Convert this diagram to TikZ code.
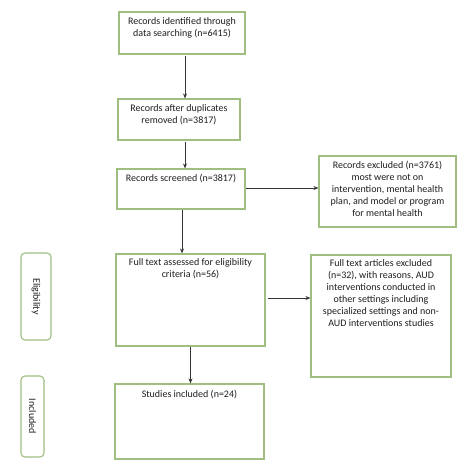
\documentclass[tikz,border=0pt]{standalone}
\usepackage{fontspec}
\setmainfont{Carlito}
\usetikzlibrary{positioning,arrows.meta}
\definecolor{boxgreen}{RGB}{160,190,128}
\definecolor{inkgray}{RGB}{30,30,30}
\tikzset{
  flowbox/.style={draw=boxgreen, line width=1.1pt, inner sep=0pt},
  flowtext/.style={align=center, inner sep=0pt, font=\fontsize{10}{12}\selectfont, text=inkgray},
  stagebox/.style={draw=boxgreen, line width=1.1pt, rounded corners=4pt, inner sep=0pt,
    rotate=-90, font=\fontsize{10}{12}\selectfont, text=inkgray},
  flowarrow/.style={draw=inkgray!90, line width=0.9pt, -{Stealth[length=5pt,width=4pt]}}
}
\begin{document}
\begin{tikzpicture}[x=1pt, y=-1pt]
    \useasboundingbox (0,0) rectangle (474,474);

    % Main column
    \node[flowbox, minimum width=126pt, minimum height=42pt] (ident) at (182,33) {};
    \node[flowtext, below=6pt of ident.north] (identtext) {Records identified through\\data searching (n=6415)};

    \node[flowbox, minimum width=122pt, minimum height=41pt] (dupl) at (179,119.5) {};
    \node[flowtext, below=6pt of dupl.north] (dupltext) {Records after duplicates\\removed (n=3817)};

    \node[flowbox, minimum width=128pt, minimum height=40pt] (screen) at (181,189) {};
    \node[flowtext, below=6pt of screen.north] (screentext) {Records screened (n=3817)};

    \node[flowbox, minimum width=149pt, minimum height=92pt] (full) at (190.5,300) {};
    \node[flowtext, below=5pt of full.north] (fulltext) {Full text assessed for eligibility\\criteria (n=56)};

    \node[flowbox, minimum width=149pt, minimum height=75pt] (incl) at (189.5,421.5) {};
    \node[flowtext, below=7pt of incl.north] (incltext) {Studies included (n=24)};

    % Exclusion boxes
    \node[flowbox, minimum width=137pt, minimum height=71pt] (excl) at (387.5,191.5) {};
    \node[flowtext, below=6pt of excl.north] (excltext) {Records excluded (n=3761)\\most were not on\\intervention, mental health\\plan, and model or program\\for mental health};

    \node[flowbox, minimum width=140pt, minimum height=122pt] (fullexcl) at (381,316) {};
    \node[flowtext, below=5pt of fullexcl.north] (fullexcltext) {Full text articles excluded\\(n=32), with reasons, AUD\\interventions conducted in\\other settings including\\specialized settings and non-\\AUD interventions studies};

    % Stage labels
    \node[stagebox, minimum width=87pt, minimum height=30pt] (eligstage) at (36,296.5) {Eligibility};
    \node[stagebox, minimum width=81pt, minimum height=23pt] (inclstage) at (32.5,416.5) {Included};

    % Arrows
    \draw[flowarrow] ([xshift=3pt,yshift=-1pt]ident.south) -- ([xshift=3pt]ident.south |- dupl.north);
    \draw[flowarrow] ([xshift=6pt,yshift=-1pt]dupl.south) -- ([xshift=6pt]dupl.south |- screen.north);
    \draw[flowarrow] ([xshift=1pt]screen.south) -- ([xshift=1pt]screen.south |- full.north);
    \draw[flowarrow] (full.south) -- (full.south |- incl.north);
    \draw[flowarrow] ([yshift=1pt]screen.east) -- ([yshift=1pt]screen.east -| excl.west);
    \draw[flowarrow] ([xshift=2pt,yshift=2pt]full.east) -- ([yshift=2pt]full.east -| fullexcl.west);
\end{tikzpicture}
\end{document}
